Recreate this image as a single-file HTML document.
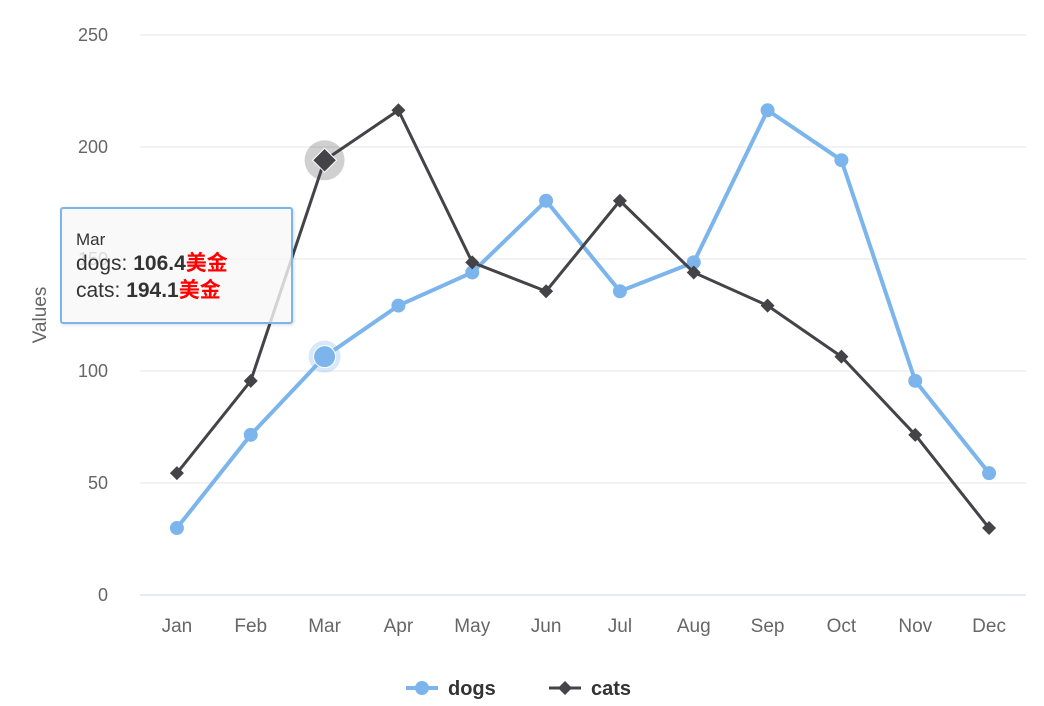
<!DOCTYPE html>
<html><head><meta charset="utf-8"><style>
html,body{margin:0;padding:0;background:#fff;}
svg{display:block;font-family:"Liberation Sans","Noto Sans CJK SC",sans-serif;}
</style></head><body>
<svg id="chart" width="1044" height="706"></svg>
<script>
const categories=['Jan','Feb','Mar','Apr','May','Jun','Jul','Aug','Sep','Oct','Nov','Dec'];
const dogsValues=[29.9,71.5,106.4,129.2,144.0,176.0,135.6,148.5,216.4,194.1,95.6,54.4];
const catsValues=[54.4,95.6,194.1,216.4,148.5,135.6,176.0,144.0,129.2,106.4,71.5,29.9];
const yTicks=[0,50,100,150,200,250];
const NS='http://www.w3.org/2000/svg';
const svg=document.getElementById('chart');
const L=140,R=1026,T=35,B=595,yMax=250;
const step=(R-L)/categories.length;
const xs=i=>L+step*(i+0.5);
const ys=v=>B-(v/yMax)*(B-T);
function mk(tag,attrs,parent){const e=document.createElementNS(NS,tag);for(const k in attrs)e.setAttribute(k,attrs[k]);(parent||svg).appendChild(e);return e;}
yTicks.forEach(t=>{
  const g=mk('line',{x1:L,x2:R,y1:ys(t),y2:ys(t),stroke:t===0?'#ccd6eb':'#e6e6e6','stroke-width':1});
  
  
  const tx=mk('text',{x:108,y:ys(t)+6,'text-anchor':'end','font-size':18,fill:'#666'});tx.textContent=t;
  
  
});
categories.forEach((c,i)=>{
  const tx=mk('text',{x:xs(i),y:632,'text-anchor':'middle','font-size':19,fill:'#666'});tx.textContent=c;
  
  
});
const yt=mk('text',{x:0,y:0,transform:'translate(46,315) rotate(-90)','text-anchor':'middle','font-size':19,fill:'#666'});yt.textContent='Values';


const dp=mk('polyline',{points:dogsValues.map((v,i)=>xs(i)+','+ys(v)).join(' '),fill:'none',stroke:'#7cb5ec','stroke-width':4,'stroke-linejoin':'round'});


dogsValues.forEach((v,i)=>{
  if(i===2){const h=mk('circle',{cx:xs(i),cy:ys(v),r:16,fill:'#7cb5ec','fill-opacity':0.3});}
  const c=mk('circle',{cx:xs(i),cy:ys(v),r:i===2?11:7,fill:'#7cb5ec',stroke:i===2?'#fff':'none','stroke-width':1});
  
  
});
const cp=mk('polyline',{points:catsValues.map((v,i)=>xs(i)+','+ys(v)).join(' '),fill:'none',stroke:'#434348','stroke-width':3,'stroke-linejoin':'round'});


catsValues.forEach((v,i)=>{
  const x=xs(i),y=ys(v);
  if(i===2){const h=mk('circle',{cx:x,cy:y,r:20,fill:'#434348','fill-opacity':0.25});}
  const s=i===2?12:7;
  const d=mk('polygon',{points:`${x},${y-s} ${x+s},${y} ${x},${y+s} ${x-s},${y}`,fill:'#434348',stroke:i===2?'#fff':'none','stroke-width':1});
  
  
});
const lg=mk('g',{});


mk('line',{x1:406,x2:438,y1:688,y2:688,stroke:'#7cb5ec','stroke-width':4},lg);
mk('circle',{cx:422,cy:688,r:7,fill:'#7cb5ec'},lg);
const l1=mk('text',{x:448,y:695,'font-size':20,'font-weight':'bold',fill:'#333'},lg);l1.textContent='dogs';


mk('line',{x1:549,x2:581,y1:688,y2:688,stroke:'#434348','stroke-width':3},lg);
mk('polygon',{points:'565,681 572,688 565,695 558,688',fill:'#434348'},lg);
const l2=mk('text',{x:591,y:695,'font-size':20,'font-weight':'bold',fill:'#333'},lg);l2.textContent='cats';


</script>
<div style="position:absolute;left:60px;top:207px;width:233px;height:117px;box-sizing:border-box;background:rgba(247,247,247,0.8);border:2px solid #7cb5ec;border-radius:3px;font-family:'Liberation Sans','Noto Sans CJK SC',sans-serif;color:#333;padding:21px 0 0 14px;box-shadow:1px 1px 3px rgba(0,0,0,0.15);">
<div style="font-size:17px;line-height:20px;">Mar</div>
<div style="font-size:21px;line-height:28px;">dogs: <b>106.4<span style="color:red">美金</span></b></div>
<div style="font-size:21px;line-height:26px;">cats: <b>194.1<span style="color:red">美金</span></b></div>
</div>
</body></html>
